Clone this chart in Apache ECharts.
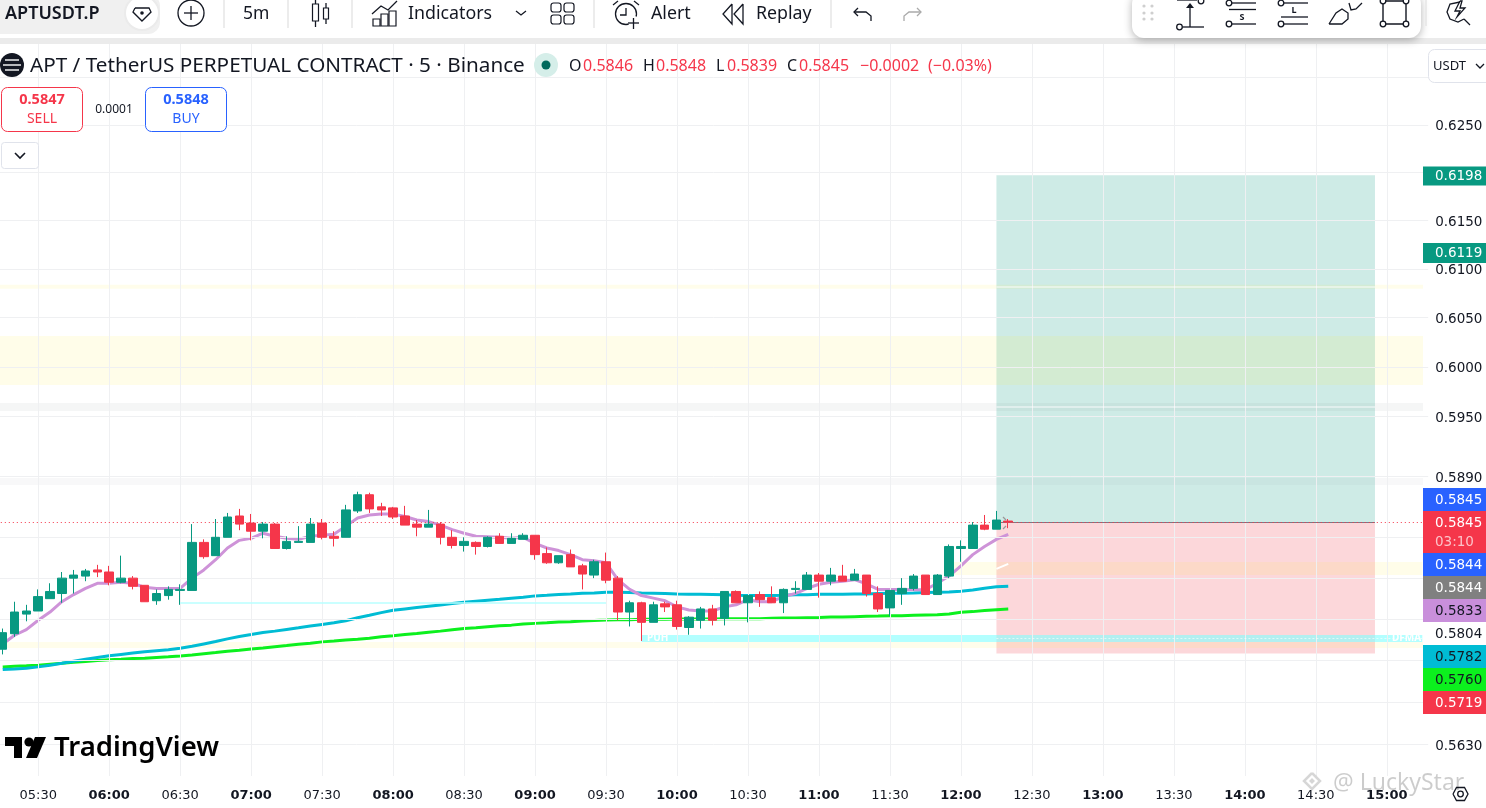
<!DOCTYPE html>
<html><head><meta charset="utf-8">
<style>html,body{margin:0;padding:0;background:#fff}#c{width:1486px;height:808px}</style>
<script src="https://cdn.jsdelivr.net/npm/echarts@6/dist/echarts.min.js"></script>
</head><body><div id="c"></div>
<script>
const barTimes=["05:15","05:20","05:25","05:30","05:35","05:40","05:45","05:50","05:55","06:00","06:05","06:10","06:15","06:20","06:25","06:30","06:35","06:40","06:45","06:50","06:55","07:00","07:05","07:10","07:15","07:20","07:25","07:30","07:35","07:40","07:45","07:50","07:55","08:00","08:05","08:10","08:15","08:20","08:25","08:30","08:35","08:40","08:45","08:50","08:55","09:00","09:05","09:10","09:15","09:20","09:25","09:30","09:35","09:40","09:45","09:50","09:55","10:00","10:05","10:10","10:15","10:20","10:25","10:30","10:35","10:40","10:45","10:50","10:55","11:00","11:05","11:10","11:15","11:20","11:25","11:30","11:35","11:40","11:45","11:50","11:55","12:00","12:05","12:10","12:15","12:20","12:25","12:30","12:35","12:40","12:45","12:50","12:55","13:00","13:05","13:10","13:15","13:20","13:25","13:30","13:35","13:40","13:45","13:50","13:55","14:00","14:05","14:10","14:15","14:20","14:25","14:30","14:35","14:40","14:45","14:50","14:55","15:00","15:05","15:10","15:15"];
// open, close, low, high
const candles=[[.5721,.5737,.5716,.5741],[.5736,.5757,.5733,.5767],[.5755,.5758,.5748,.5764],[.5758,.5772,.5758,.5779],[.5770,.5777,.5770,.5785],[.5775,.5790,.5766,.5796],[.5790,.5793,.5775,.5798],[.5792,.5797,.5787,.5799],[.5798,.5796,.5791,.5803],[.5796,.5786,.5783,.5802],[.5786,.5790,.5785,.5812],[.5790,.5782,.5779,.5792],[.5783,.5767,.5767,.5783],[.5768,.5775,.5764,.5779],[.5773,.5779,.5769,.5782],[.5778,.5779,.5764,.5784],[.5778,.5825,.5778,.5843],[.5825,.5811,.5809,.5828],[.5812,.5830,.5812,.5848],[.5830,.5850,.5830,.5854],[.5851,.5843,.5837,.5858],[.5844,.5836,.5827,.5853],[.5836,.5843,.5829,.5845],[.5843,.5819,.5819,.5844],[.5819,.5826,.5818,.5831],[.5825,.5826,.5825,.5841],[.5825,.5843,.5825,.5849],[.5844,.5830,.5828,.5848],[.5831,.5829,.5821,.5836],[.5830,.5857,.5830,.5862],[.5856,.5872,.5854,.5875],[.5872,.5858,.5854,.5874],[.5860,.5857,.5851,.5864],[.5859,.5850,.5848,.5860],[.5851,.5842,.5842,.5861],[.5843,.5840,.5831,.5847],[.5840,.5843,.5840,.5857],[.5843,.5830,.5823,.5845],[.5830,.5822,.5819,.5837],[.5822,.5826,.5816,.5830],[.5825,.5821,.5813,.5826],[.5821,.5830,.5820,.5831],[.5831,.5824,.5824,.5834],[.5824,.5829,.5824,.5834],[.5828,.5832,.5828,.5834],[.5832,.5813,.5808,.5832],[.5814,.5805,.5804,.5820],[.5805,.5812,.5804,.5812],[.5813,.5801,.5801,.5818],[.5802,.5794,.5779,.5804],[.5793,.5806,.5790,.5808],[.5806,.5788,.5785,.5815],[.5790,.5757,.5749,.5792],[.5757,.5766,.5743,.5768],[.5766,.5747,.5729,.5767],[.5747,.5764,.5747,.5767],[.5765,.5762,.5757,.5767],[.5764,.5743,.5740,.5768],[.5742,.5752,.5735,.5753],[.5749,.5760,.5741,.5762],[.5760,.5749,.5744,.5764],[.5751,.5777,.5744,.5777],[.5777,.5766,.5766,.5778],[.5766,.5773,.5747,.5773],[.5774,.5769,.5762,.5777],[.5771,.5766,.5766,.5782],[.5766,.5779,.5756,.5780],[.5779,.5780,.5775,.5787],[.5779,.5793,.5779,.5796],[.5793,.5787,.5771,.5795],[.5787,.5793,.5783,.5800],[.5792,.5787,.5787,.5803],[.5788,.5794,.5788,.5799],[.5793,.5775,.5772,.5793],[.5775,.5760,.5757,.5782],[.5761,.5778,.5753,.5778],[.5775,.5780,.5764,.5790],[.5780,.5792,.5778,.5794],[.5793,.5774,.5774,.5793],[.5774,.5793,.5774,.5794],[.5792,.5821,.5790,.5823],[.5819,.5821,.5806,.5827],[.5819,.5842,.5819,.5845],[.5842,.5838,.5837,.5852],[.5838,.5847,.5838,.5856],[.5846,.5845,.5839,.5848]];
const maFast=[.5726,.57345,.5740,.5749,.5757,.5767,.5774,.5780,.5785,.5785,.5786,.5785,.5781,.5780,.5780,.5780,.5790,.5798,.5808,.58195,.5827,.5829,.5834,.5831,.5829,.5828,.5831,.5832,.5833,.5841,.5849,.5852,.5853,.5853,.58505,.5847,.58455,.5842,.58375,.5834,.5831,.58306,.5830,.5829,.5830,.5824,.58195,.5817,.5813,.5808,.5807,.5805,.57885,.5779,.5773,.57705,.5768,.5762,.5759,.5758,.5758,.5762,.5764,.5769,.5767,.5767,.5772,.5775,.5780,.5784,.5786,.5787,.57885,.57845,.5779,.5779,.5779,.57787,.57787,.5785,.5792,.5802,.5813,.5821,.5828,.5833];
const maMid=[.57014,.5702,.57027,.5704,.57056,.57075,.57095,.57114,.57131,.57147,.5716,.57173,.57186,.57196,.57206,.57219,.57238,.57261,.57284,.5731,.57333,.57352,.57372,.57385,.57401,.57417,.57434,.5745,.57466,.57486,.57515,.57538,.57564,.57587,.576,.57613,.57626,.57639,.57652,.57665,.57675,.57685,.57694,.57704,.57714,.57727,.57733,.5774,.57746,.57753,.57756,.57763,.57763,.5776,.57756,.57753,.5775,.57746,.57743,.57743,.5774,.57737,.57733,.5773,.5773,.5773,.57733,.57737,.57737,.57743,.57743,.57743,.57746,.57746,.5775,.57753,.57753,.57756,.5776,.57763,.57766,.57772,.57785,.57802,.57815,.5782];
const maSlow=[.5704,.57046,.5705,.57056,.57066,.57075,.57085,.57092,.57101,.57108,.57114,.57121,.57124,.57131,.57137,.57144,.57155,.57167,.57178,.5719,.572,.57212,.57222,.57235,.57245,.57258,.57268,.57281,.5729,.573,.57307,.57316,.5733,.5734,.57352,.57362,.57375,.57385,.57398,.57411,.57417,.57427,.57437,.57443,.57453,.5746,.57466,.57473,.57476,.57483,.57489,.57492,.57496,.57496,.57499,.57499,.57499,.57502,.57502,.57502,.57502,.57505,.57505,.57505,.57505,.57509,.57512,.57512,.57515,.57518,.57522,.57522,.57525,.57528,.57531,.57535,.57535,.57538,.57541,.57544,.57551,.57567,.57574,.57584,.57593,.5760];
const maHidden=[.5799,.5804];
const hGrid=[.63,.625,.62,.615,.61,.605,.6,.595,.589,.583,.579,.575,.571,.567,.563];
const vGrid=["05:30","06:00","06:30","07:00","07:30","08:00","08:30","09:00","09:30","10:00","10:30","11:00","11:30","12:00","12:30","13:00","13:30","14:00","14:30","15:00"];
const priceTicks=[.625,.615,.61,.605,.6,.595,.589,.563];
const position={from:"12:15",to:"14:55",target:.6197,entry:.5845,stop:.5717};
const zoneBands=[[.60314,.59818],[.60836,.60795],[.59636,.59556],[.58887,.58817],[.5728,.57222]];
const lateBand=[.58058,.57931,"11:55"];
const levelBand=[.57347,.5728,"09:45"];
const levelCenter=.57315;
const levelLine=[.57662,"06:30","09:30"];
const badges=[["0.6198",176,19,"#089981","#fff"],["0.6119",253,20,"#089981","#fff"],["0.5845",499.5,23,"#2962ff","#fff"],["0.5844",564.5,23,"#2962ff","#fff"],["0.5844",587.5,23,"#808080","#fff"],["0.5833",610.5,23,"#c98fdb","#131722"],["0.5782",656.5,23,"#00bcd4","#131722"],["0.5760",679.5,23,"#0cf01e","#131722"],["0.5719",702.5,23,"#f5364a","#fff"]];

const RED="#f5364a",GREEN="#089981",BLUE="#2962ff",INK="#131722";
const UI='"Noto Sans",sans-serif', NUM='"DejaVu Sans",sans-serif';
const g=[];
const Z=30;
function T(text,x,y,o={}){g.push({type:'text',z:o.z||Z,silent:true,x:x,y:y,style:{text:text,fill:o.color||INK,font:(o.weight||'normal')+' '+(o.size||16)+'px '+(o.font||UI),textAlign:o.align||'left',textVerticalAlign:'middle',opacity:o.opacity==null?1:o.opacity}})}
function R(x,y,w,h,o={}){g.push({type:'rect',z:o.z||Z-1,silent:true,shape:{x,y,width:w,height:h,r:o.r||0},style:{fill:o.fill||'none',stroke:o.stroke||'none',lineWidth:o.lw||1,shadowBlur:o.blur||0,shadowColor:o.shadow||'transparent',shadowOffsetY:o.sy||0,opacity:o.opacity==null?1:o.opacity}})}
function P(pts,o={}){g.push({type:o.fill?'polygon':'polyline',z:o.z||Z,silent:true,shape:{points:pts},style:{fill:o.fill||'none',stroke:o.stroke||(o.fill?'none':INK),lineWidth:o.lw||1.3,opacity:o.opacity==null?1:o.opacity}})}
function C(x,y,r,o={}){g.push({type:'circle',z:o.z||Z,silent:true,shape:{cx:x,cy:y,r},style:{fill:o.fill||'none',stroke:o.stroke||'none',lineWidth:o.lw||1.3,opacity:o.opacity==null?1:o.opacity}})}

// panels
R(1423,40,63,736,{fill:'#fff',z:5});
R(0,0,1486,40,{fill:'#fff',z:6});
R(0,38,1486,6,{fill:'#ebebeb',z:7});
// left toolbar
R(-12,-6,172,40,{fill:'#f0f0f0',r:12,z:8});
C(142,13,17,{fill:'#fff',stroke:'#ebebeb',lw:2,z:9});
T('APTUSDT.P',5,14,{size:18,weight:'600'});
P([[135,8],[149,8],[151,12],[142,21],[133,12],[135,8]],{});
C(142,13,1.8,{fill:INK});
C(191,13,13,{stroke:INK});P([[184,13],[198,13]]);P([[191,6],[191,20]]);
[224,288,352,594,831].forEach(x=>P([[x,0],[x,28]],{stroke:'#e6e6e6',lw:1.5}));
T('5m',243,14,{size:17.5});
R(312.5,4,6,17,{stroke:INK,lw:1.2,z:Z});P([[315.5,0],[315.5,4]]);P([[315.5,21],[315.5,27]]);
R(323.5,8,5,11,{stroke:INK,lw:1.2,z:Z});P([[326,3],[326,8]]);P([[326,19],[326,24]]);
P([[372,14],[381,6],[388,10],[397,1]]);
R(373,19,7,7,{stroke:INK,lw:1.2,z:Z});R(381,14,7,12,{stroke:INK,lw:1.2,z:Z});R(389,11,7,15,{stroke:INK,lw:1.2,z:Z});
T('Indicators',408,14,{size:17.8});
P([[516,11],[521,15],[526,11]]);
[[551,3],[564,3],[551,15],[564,15]].forEach(a=>R(a[0],a[1],10,9,{stroke:INK,r:2.5,lw:1.2,z:Z}));
C(626,14,10.5,{stroke:INK});P([[626,8],[626,15],[620,15]]);P([[613,5],[618,1]]);P([[634,1],[639,5]]);
C(634,22,6,{fill:'#fff'});P([[628,23],[639,23]]);P([[633.5,18],[633.5,29]]);
T('Alert',651,14,{size:17.8});
P([[732,4],[723,14],[732,24],[732,4]]);P([[743,4],[734,14],[743,24],[743,4]]);
T('Replay',756,14,{size:17.8});
P([[858,8],[854,12],[858,16]]);P([[854,12],[866,12],[871,16],[871,21]]);
P([[917,8],[921,12],[917,16]],{stroke:'#aaa'});P([[921,12],[909,12],[904,16],[904,21]],{stroke:'#aaa'});
// floating toolbar
R(1132,-8,289,46,{fill:'#fff',r:12,blur:8,shadow:'rgba(0,0,0,.3)',sy:2,z:8});
[1144,1152].forEach(x=>[6,13,19].forEach(y=>C(x,y,1.6,{fill:'#cfcfcf'})));
C(1179.5,27,2.8,{stroke:INK});P([[1182.5,27],[1204,27]]);P([[1190,27],[1190,5]]);P([[1186,8],[1190,3],[1194,8],[1186,8]],{fill:INK});
P([[1177,0],[1197,0]]);C(1201,1,2.8,{stroke:INK});
C(1229,3,2.8,{stroke:INK});P([[1232,3],[1256,3]]);P([[1229,9.5],[1256,9.5]]);C(1229,24,2.8,{stroke:INK});P([[1232,24],[1256,24]]);T('S',1242,17,{size:9,align:'center',weight:'bold'});
C(1281,3,2.8,{stroke:INK});P([[1284,3],[1308,3]]);P([[1281,17],[1308,17]]);C(1281,24,2.8,{stroke:INK});P([[1284,24],[1308,24]]);T('L',1294,10,{size:9,align:'center',weight:'bold'});
P([[1329,24],[1336,13],[1342,9],[1348,13],[1348,19],[1342,24],[1329,24]]);P([[1349,3],[1351,10],[1356,9],[1362,3]]);
R(1383,1,23,23,{stroke:INK,lw:1.4,z:Z});[[1383,1],[1406,1],[1383,24],[1406,24]].forEach(a=>C(a[0],a[1],2.8,{stroke:INK,fill:'#fff'}));
P([[1426,0],[1426,26]],{stroke:'#e6e6e6',lw:1.5});
P([[1460,2],[1450,4],[1447,12],[1450,19],[1458,22],[1464,19]]);P([[1464,19],[1470,25]]);P([[1460,1],[1455,11],[1460,11],[1457,17],[1465,8],[1460,8],[1462,1],[1460,1]]);
// USDT
R(1428.5,49.5,70,33,{stroke:'#e0e3eb',r:6,z:Z-1,fill:'#fff'});
T('USDT',1433,66,{size:13,font:UI});P([[1476,64],[1480,68],[1484,64]]);
// legend
C(12,65,12,{fill:'#131722'});P([[5,60],[19,60]],{stroke:'#fff',lw:1.4});P([[3,65],[21,65]],{stroke:'#fff',lw:1.4});P([[5,70],[19,70]],{stroke:'#fff',lw:1.4});
T('APT / TetherUS PERPETUAL CONTRACT · 5 · Binance',30,66,{size:20.7});
C(546,65,12,{fill:'#d5eee9'});C(546,65,4.5,{fill:'#00695c'});
[['O',569,INK],['0.5846',583,RED],['H',643,INK],['0.5848',656,RED],['L',716,INK],['0.5839',727,RED],['C',787,INK],['0.5845',799,RED],['−0.0002',860,RED],['(−0.03%)',928,RED]].forEach(a=>T(a[0],a[1],66,{size:16,color:a[2]}));
// trade buttons
R(1.5,87.5,81,44,{stroke:RED,fill:'#fff',r:6,z:Z-1});T('0.5847',42,100,{size:14.5,weight:'bold',color:RED,align:'center'});T('SELL',42,119,{size:14,color:RED,align:'center'});
T('0.0001',114,110,{size:12,align:'center',font:'"Noto Sans"'});
R(145.5,87.5,81,44,{stroke:BLUE,fill:'#fff',r:6,z:Z-1});T('0.5848',186,100,{size:14.5,weight:'bold',color:BLUE,align:'center'});T('BUY',186,119,{size:14,color:BLUE,align:'center'});
R(1.5,142.5,37,26,{stroke:'#e0e3eb',fill:'#fff',r:3,z:Z-1});P([[15,153],[20,158],[25,153]],{lw:1.6});
// price badges
badges.forEach(b=>{R(1423,b[1]-b[2]/2,63,b[2],{fill:b[3]});T(b[0],1435,b[1]+.5,{size:13.5,font:NUM,color:b[4]})});
R(1423,511,63,42,{fill:RED});T('0.5845',1435,523.5,{size:13.5,font:NUM,color:'#fff'});T('03:10',1435,542.5,{size:13.5,font:NUM,color:'#fff',opacity:.7});
T('0.5804',1435,634.5,{size:13.5,font:NUM});
// logo
P([[5,737],[22,737],[22,758],[14,758],[14,746],[5,746]],{fill:'#000'});C(29,742,4.6,{fill:'#000'});P([[35,737],[46,737],[37,758],[26,758]],{fill:'#000'});
T('TradingView',54,748,{size:27.5,weight:'600',color:'#000',font:'"Noto Sans"'});
// level texts
T('PUH',647,638,{size:10,color:'#fff',weight:'bold',z:12});T('DFMA',1392,638,{size:10,color:'#fff',weight:'bold',z:12});
// last-bar chevrons
P([[1003,517],[1006,520]],{stroke:'#999',z:12});P([[1006,526],[1003,529]],{stroke:'#999',z:12});
// settings + watermark
P([[1453,794],[1456.5,787.5],[1464.5,787.5],[1468,794],[1464.5,800.5],[1456.5,800.5],[1453,794]],{});C(1460.5,794,2.8,{stroke:INK});
P([[1312,773],[1320,781],[1312,789],[1304,781],[1312,773]],{stroke:'rgba(0,0,0,.16)',lw:2.5,z:40});
P([[1312,778],[1315,781],[1312,784],[1309,781],[1312,778]],{fill:'rgba(0,0,0,.16)',z:40});
T('@ LuckyStar',1333,783,{size:23,color:'rgba(0,0,0,.2)',z:40});

const chart=echarts.init(document.getElementById('c'));
const sym={symbol:'none',silent:true,animation:false,precision:6};
const lineSeries=(name,data,color,w,z)=>({name,type:'line',data,symbol:'none',z,silent:true,animation:false,lineStyle:{color,width:w}});
const hiddenCarrier=z=>({type:'line',data:candles.map(c=>c[1]),symbol:'none',z,silent:true,lineStyle:{opacity:0}});
const lastBar=barTimes[barTimes.length-1];
chart.setOption({
 animation:false,
 backgroundColor:'#fff',
 grid:{left:-3.2,top:40,width:1431.4,height:736,containLabel:false,outerBoundsMode:'none'},
 xAxis:{type:'category',data:barTimes,boundaryGap:true,axisLine:{show:false},axisTick:{show:false},splitLine:{show:false},
  axisLabel:{interval:(i,v)=>vGrid.includes(v),margin:13,hideOverlap:false,formatter:v=>v.endsWith(':00')?'{b|'+v+'}':'{n|'+v+'}',
   rich:{b:{fontFamily:NUM,fontSize:13,fontWeight:'bold',color:INK},n:{fontFamily:NUM,fontSize:13,color:INK}}}},
 yAxis:{type:'log',logBase:10,position:'right',min:.56,max:.634,z:10,axisLine:{show:false},axisTick:{show:false},splitLine:{show:false},minorSplitLine:{show:false},minorTick:{show:false},
  axisLabel:{customValues:priceTicks,margin:7,verticalAlign:'top',lineHeight:4,fontFamily:NUM,fontSize:13.5,color:INK,formatter:v=>(+v).toFixed(4)}},
 series:[
  {...hiddenCarrier(1),
   markLine:{...sym,lineStyle:{color:'#eff0f2',width:1,type:'solid'},label:{show:false},data:[...hGrid.map(v=>({yAxis:v})),...vGrid.map(v=>({xAxis:v}))]}},
  {...hiddenCarrier(2),
   markArea:{silent:true,animation:false,data:[
    [{xAxis:position.from,yAxis:position.target,itemStyle:{color:'rgba(8,153,129,.2)'}},{xAxis:position.to,yAxis:position.entry}],
    [{xAxis:position.from,yAxis:position.entry,itemStyle:{color:'rgba(242,54,69,.2)'}},{xAxis:position.to,yAxis:position.stop}]]}},
  {...hiddenCarrier(3),
   markArea:{silent:true,animation:false,data:[
    [{yAxis:zoneBands[0][0],itemStyle:{color:'rgba(255,235,59,.11)'}},{yAxis:zoneBands[0][1]}],
    [{yAxis:zoneBands[1][0],itemStyle:{color:'rgba(255,235,59,.1)'}},{yAxis:zoneBands[1][1]}],
    [{yAxis:zoneBands[2][0],itemStyle:{color:'rgba(120,123,134,.07)'}},{yAxis:zoneBands[2][1]}],
    [{yAxis:zoneBands[3][0],itemStyle:{color:'rgba(120,123,134,.05)'}},{yAxis:zoneBands[3][1]}],
    [{yAxis:zoneBands[4][0],itemStyle:{color:'rgba(255,235,59,.1)'}},{yAxis:zoneBands[4][1]}],
    [{xAxis:lateBand[2],yAxis:lateBand[0],itemStyle:{color:'rgba(255,235,59,.11)'}},{xAxis:lastBar,yAxis:lateBand[1]}],
    [{xAxis:levelBand[2],yAxis:levelBand[0],itemStyle:{color:'rgba(128,255,255,.6)'}},{xAxis:lastBar,yAxis:levelBand[1]}]]},
   markLine:{...sym,label:{show:false},data:[
    [{xAxis:levelLine[1],yAxis:levelLine[0],lineStyle:{color:'#b8ffff',width:1.5,type:'solid'}},{xAxis:levelLine[2],yAxis:levelLine[0]}],
    [{xAxis:position.from,yAxis:position.entry,lineStyle:{color:'#787b86',width:1,type:'solid'}},{xAxis:position.to,yAxis:position.entry}],
    [{xAxis:position.from,yAxis:.6082,lineStyle:{color:'rgba(255,255,255,.6)',width:1.5,type:'solid'}},{xAxis:position.to,yAxis:.6082}],
    [{xAxis:position.from,yAxis:.596,lineStyle:{color:'rgba(255,255,255,.6)',width:1.5,type:'solid'}},{xAxis:position.to,yAxis:.596}],
    [{xAxis:position.from,yAxis:levelCenter,lineStyle:{color:'rgba(255,255,255,.6)',width:1,type:[2,2]}},{xAxis:lastBar,yAxis:levelCenter}]]}},
  {...hiddenCarrier(3),markLine:{...sym,label:{show:false},lineStyle:{color:RED,width:1,type:[1,3]},data:[{yAxis:position.entry}]}},
  lineSeries('slow',maSlow,'#0cf01e',3,4),
  lineSeries('mid',maMid,'#00bcd4',3,4),
  lineSeries('fast',maFast,'#ce93d8',3,4),
  {type:'line',data:barTimes.slice(0,84).map(()=>null).concat(maHidden),symbol:'none',z:4,silent:true,connectNulls:false,lineStyle:{color:'#fff',width:2}},
  {type:'candlestick',data:candles,barWidth:9,z:6,silent:true,itemStyle:{color:GREEN,color0:RED,borderColor:GREEN,borderColor0:RED,borderWidth:1}}
 ],
 graphic:{elements:g}
});
</script></body></html>
